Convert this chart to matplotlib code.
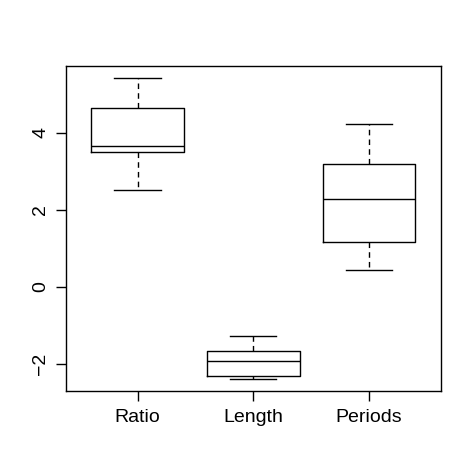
import matplotlib
matplotlib.use("Agg")
import matplotlib.pyplot as plt

# Box statistics (whisker low, Q1, median, Q3, whisker high)
labels = ["Ratio", "Length", "Periods"]
whislo = [2.51, -2.40, 0.44]
q1 = [3.50, -2.31, 1.17]
med = [3.65, -1.93, 2.27]
q3 = [4.63, -1.66, 3.18]
whishi = [5.42, -1.28, 4.22]

stats = []
for i, lab in enumerate(labels):
    stats.append({
        "label": lab,
        "whislo": whislo[i],
        "q1": q1[i],
        "med": med[i],
        "q3": q3[i],
        "whishi": whishi[i],
        "fliers": [],
    })

plt.rcParams["font.family"] = ["Liberation Sans", "DejaVu Sans"]

fig = plt.figure(figsize=(4.74, 4.74), dpi=100)
ax = fig.add_axes([0.139, 0.175, 0.791, 0.686])

lw = 1.0
ax.bxp(
    stats,
    positions=[1, 2, 3],
    widths=0.8,
    capwidths=0.4,
    showfliers=False,
    boxprops=dict(color="black", linewidth=lw),
    whiskerprops=dict(color="black", linewidth=lw, linestyle=(0, (4, 3))),
    capprops=dict(color="black", linewidth=lw),
    medianprops=dict(color="black", linewidth=lw),
)

# R-style 4% axis extension
ylo, yhi = min(whislo), max(whishi)
pad = 0.04 * (yhi - ylo)
ax.set_ylim(ylo - pad, yhi + pad)
ax.set_xlim(0.5 - 0.12, 3.5 + 0.12)

ax.set_yticks([-2, 0, 2, 4])
ax.set_yticklabels(["\u22122", "0", "2", "4"], rotation=90, va="center")
ax.set_xticks([1, 2, 3])
ax.set_xticklabels(labels)
ax.tick_params(direction="out", length=7, width=lw, labelsize=14, pad=6)
ax.tick_params(axis="y", pad=5)

for sp in ax.spines.values():
    sp.set_linewidth(lw)

plt.savefig("out.png", dpi=100)
plt.close()
